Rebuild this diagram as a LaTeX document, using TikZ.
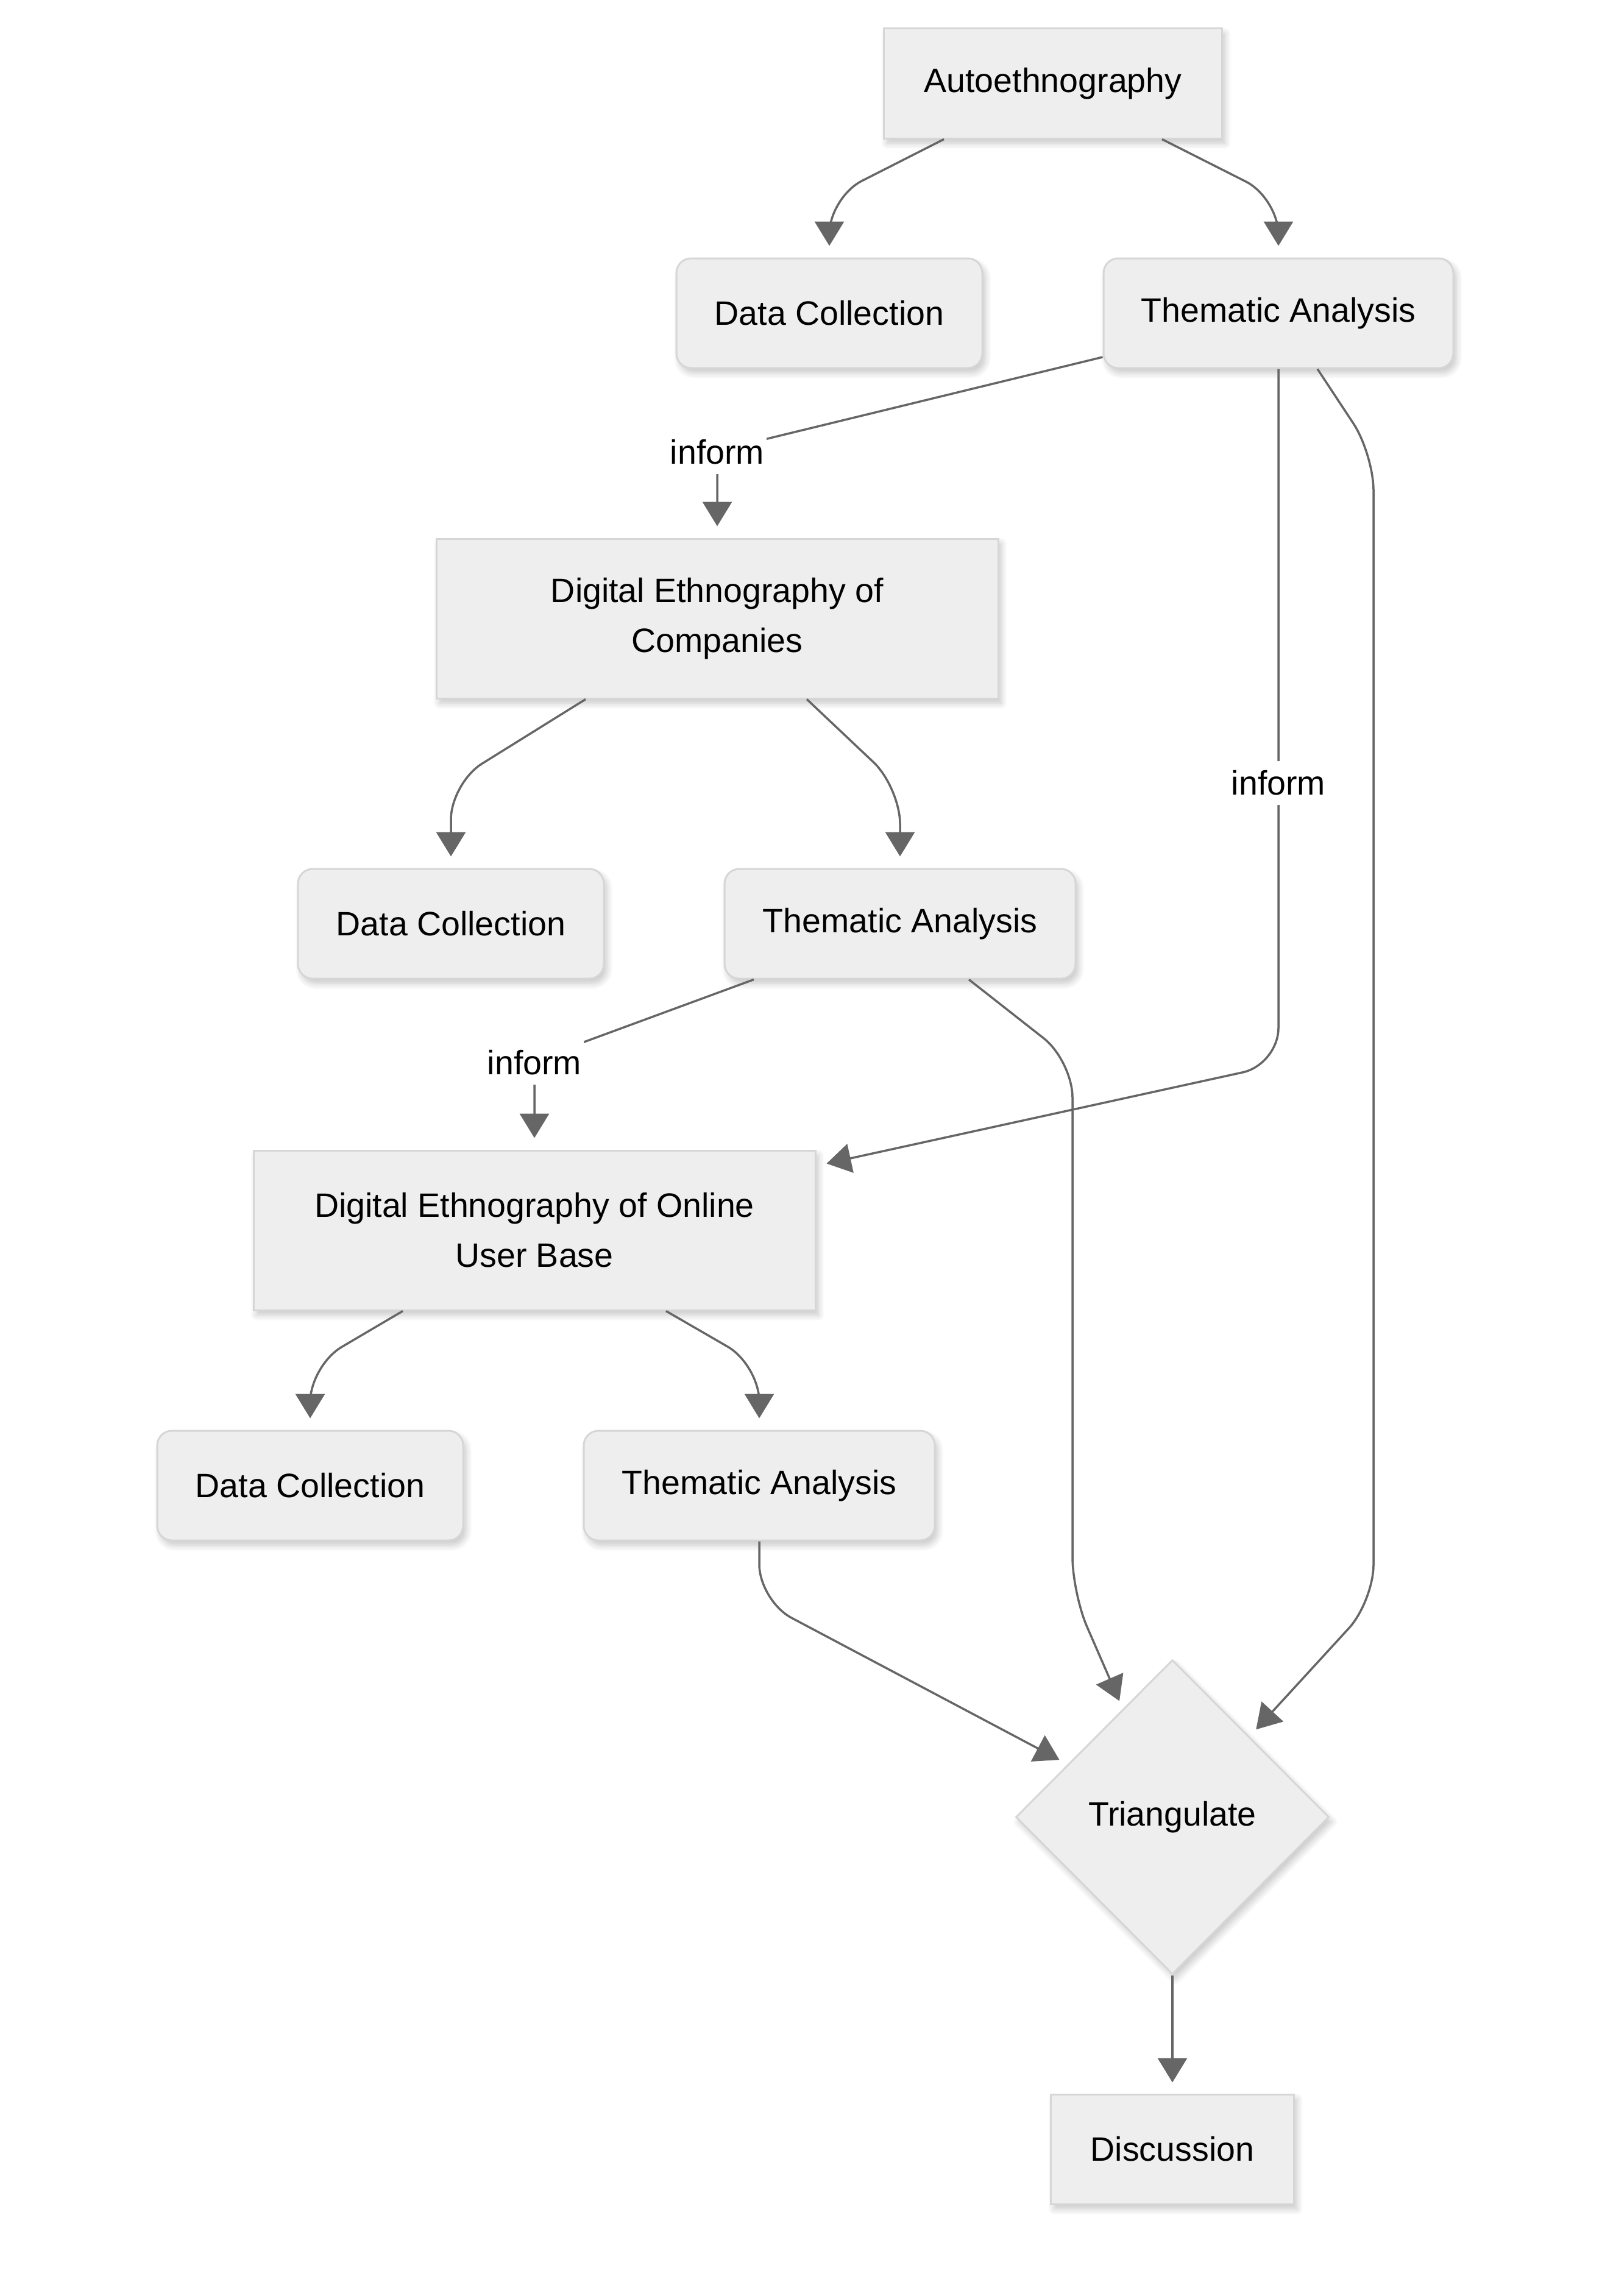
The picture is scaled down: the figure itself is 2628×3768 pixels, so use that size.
\documentclass[tikz,border=0pt]{standalone}
\usepackage{fontspec}
\setmainfont{Liberation Sans}
\usetikzlibrary{arrows.meta,shapes.geometric,shadows.blur}
\definecolor{boxfill}{HTML}{EEEEEE}
\definecolor{boxline}{HTML}{D6D6D6}
\definecolor{edgec}{HTML}{666666}
\begin{document}
\begin{tikzpicture}[x=1pt,y=-1pt,
  every node/.style={font=\fontsize{55.5pt}{82pt}\selectfont, text=black},
  box/.style={draw=boxline, line width=3pt, fill=boxfill, minimum height=180pt, inner sep=0pt, align=center,
    blur shadow={shadow xshift=5pt, shadow yshift=-8pt, shadow blur radius=10pt, shadow blur steps=10, shadow opacity=22}},
  rbox/.style={box, rounded corners=24pt},
  bigbox/.style={box, minimum width=922pt, minimum height=262pt},
  tribox/.style={diamond, draw=boxline, line width=3pt, fill=boxfill, minimum width=514pt, minimum height=516pt, inner sep=0pt,
    blur shadow={shadow xshift=5pt, shadow yshift=-8pt, shadow blur radius=10pt, shadow blur steps=10, shadow opacity=22}},
  edge/.style={draw=edgec, line width=3.5pt, rounded corners=60pt, -{Triangle[length=40pt,width=48pt]}},
  lbl/.style={fill=white, inner xsep=4pt, inner ysep=16pt}
]
\useasboundingbox (0,0) rectangle (2628,3768);

\node[box, minimum width=555pt] (auto) at (1728,137) {Autoethnography};
\node[rbox, minimum width=502pt] (dc1) at (1361,514) {Data Collection};
\node[rbox, minimum width=574pt] (ta1) at (2098,514) {Thematic Analysis};
\node[bigbox] (dec) at (1177,1015) {Digital Ethnography of\\Companies};
\node[rbox, minimum width=502pt] (dc2) at (740,1516) {Data Collection};
\node[rbox, minimum width=576pt] (ta2) at (1477,1516) {Thematic Analysis};
\node[bigbox] (deo) at (877,2019) {Digital Ethnography of Online\\User Base};
\node[rbox, minimum width=502pt] (dc3) at (509,2438) {Data Collection};
\node[rbox, minimum width=576pt] (ta3) at (1246,2438) {Thematic Analysis};
\node[tribox] (tri) at (1924,2982) {Triangulate};
\node[box, minimum width=399pt] (disc) at (1924,3527) {Discussion};

\draw[edge] ([xshift=-179pt]auto.south) -- (1361,324) -- ([yshift=19pt]dc1.north);
\draw[edge] ([xshift=179pt]auto.south) -- (2098,325) -- ([yshift=19pt]ta1.north);
\draw[edge, sharp corners] ([yshift=-72pt]ta1.west) -- (1177,740) -- ([yshift=19pt]dec.north);
\draw[edge] (ta1.south) -- (2098,1747) -- ([xshift=17pt,yshift=-23pt]deo.north east);
\draw[edge] ([xshift=64pt]ta1.south) -- (2254,745) -- (2254,2628) -- ([xshift=8pt,yshift=14pt]tri.north east);
\draw[edge] ([xshift=-216pt]dec.south) -- (740,1285) -- ([yshift=19pt]dc2.north);
\draw[edge] ([xshift=147pt]dec.south) -- (1477,1292) -- ([yshift=19pt]ta2.north);
\draw[edge, sharp corners] ([xshift=-240pt]ta2.south) -- (877,1740) -- ([yshift=19pt]deo.north);
\draw[edge] ([xshift=113pt]ta2.south) -- (1760,1741) -- (1760,2615) -- ([xshift=-87pt,yshift=-69pt]tri.north);
\draw[edge] ([xshift=-216pt]deo.south) -- (509,2241) -- ([yshift=19pt]dc3.north);
\draw[edge] ([xshift=216pt]deo.south) -- (1246,2240) -- ([yshift=19pt]ta3.north);
\draw[edge] (ta3.south) -- (1246,2627) -- ([xshift=73pt,yshift=94pt]tri.west);
\draw[edge] (tri.south) -- ([yshift=18pt]disc.north);

\node[lbl] (l1) at (1177,742) {inform};
\node[lbl] (l2) at (2098,1285) {inform};
\node[lbl] (l3) at (877,1744) {inform};
\end{tikzpicture}
\end{document}
